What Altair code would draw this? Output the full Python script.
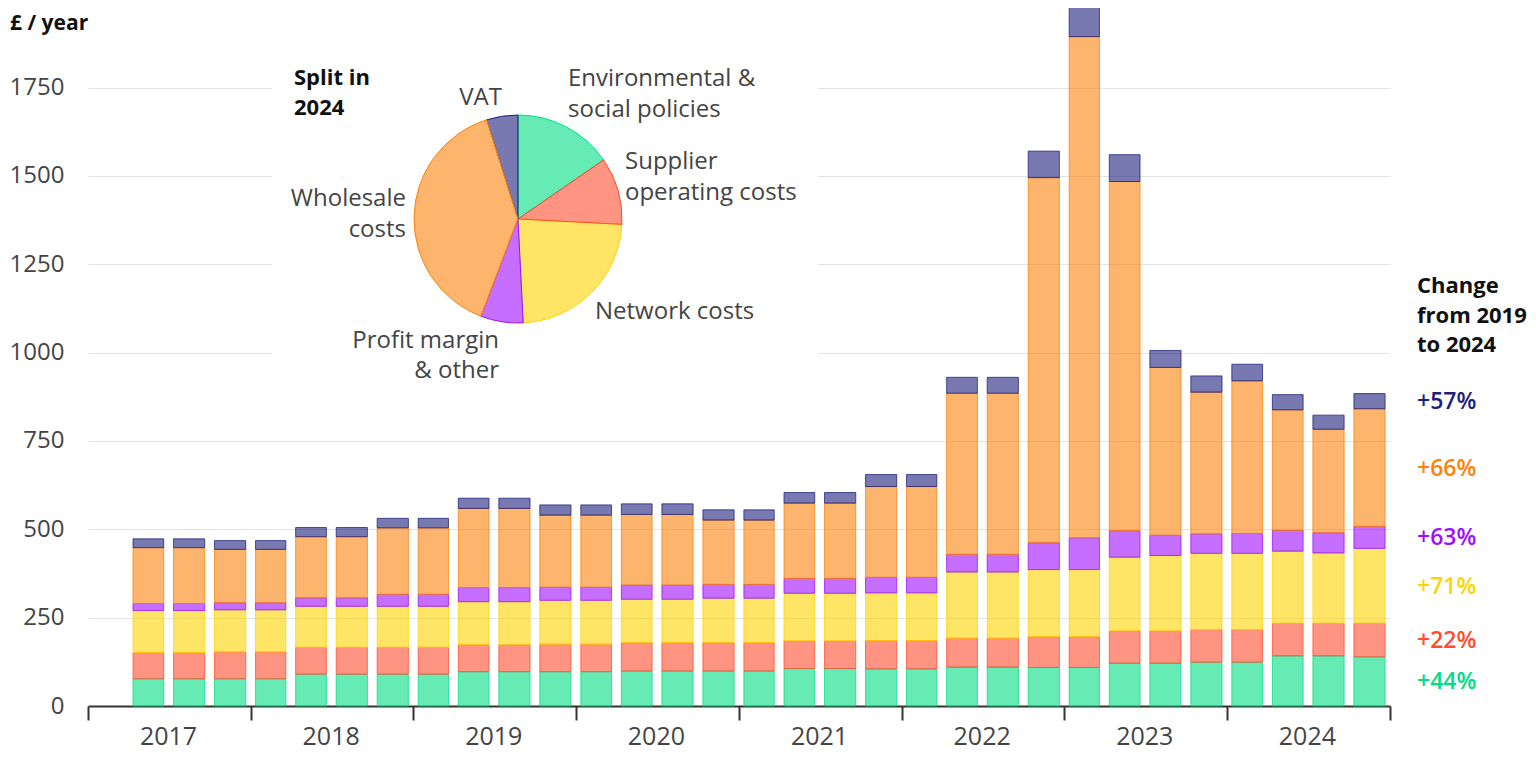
import altair as alt
import pandas as pd

FONT = "Open Sans"

series = ["Environmental & social policies", "Supplier operating costs", "Network costs",
          "Profit margin & other", "Wholesale costs", "VAT"]
base_colors = ["#00DE84", "#FF4D2F", "#FFD400", "#9E0DFF", "#FC820A", "#1C207B"]

# quarterly periods, Q2 2017 .. Q4 2024 (31 bars)
period_starts = pd.date_range("2017-04-01", periods=31, freq="QS")

environmental = [77, 77, 77, 77, 90, 90, 90, 90, 97, 97, 97, 97, 99, 99, 99, 99,
                 106, 106, 105, 105, 110, 110, 109, 109, 121, 121, 124, 124, 142, 142, 139]
supplier = [74, 74, 76, 76, 76, 76, 76, 76, 76, 76, 78, 78, 80, 80, 80, 80,
            78, 78, 80, 80, 82, 82, 87, 87, 91, 91, 92, 92, 92, 92, 95]
network = [119, 119, 119, 119, 116, 116, 116, 116, 122, 122, 124, 124, 123, 123, 126, 126,
           135, 135, 135, 135, 187, 187, 190, 190, 209, 214, 216, 216, 204, 199, 212]
profit = [20, 20, 20, 20, 24, 24, 34, 34, 40, 40, 37, 37, 40, 40, 39, 39,
          42, 42, 44, 44, 50, 50, 76, 90, 75, 57, 55, 56, 59, 57, 62]
wholesale = [158, 158, 151, 151, 173, 173, 188, 188, 224, 224, 204, 204, 200, 200, 182, 182,
             213, 213, 257, 257, 456, 456, 1033, 1418, 988, 475, 401, 432, 341, 293, 333]
vat = [25, 25, 25, 25, 26, 26, 27, 27, 29, 29, 29, 29, 30, 30, 29, 29,
       30, 30, 34, 34, 45, 45, 75, 96, 76, 48, 46, 47, 43, 40, 43]

change_labels = ["+44%", "+22%", "+71%", "+63%", "+66%", "+57%"]
years = list(range(2017, 2026))
y_ticks = [0, 250, 500, 750, 1000, 1250, 1500, 1750]

values_by_series = [environmental, supplier, network, profit, wholesale, vat]

rows = []
for i, start in enumerate(period_starts):
    end = start + pd.offsets.QuarterBegin(startingMonth=1)
    cum = 0
    for k, name in enumerate(series):
        v = values_by_series[k][i]
        rows.append({
            "start": (start + pd.Timedelta(days=11)).strftime("%Y-%m-%dT00:00:00"),
            "end": (end - pd.Timedelta(days=11)).strftime("%Y-%m-%dT00:00:00"),
            "year": start.year,
            "series": name,
            "order": k,
            "value": v,
            "y0": cum,
            "y1": cum + v,
            "mid": cum + v / 2,
        })
        cum += v
df = pd.DataFrame(rows)

pie_df = (df[df["year"] == 2024].groupby(["series", "order"], as_index=False)["value"].mean())
last_df = df[df["start"] == df["start"].max()].copy()
last_df["label"] = [change_labels[k] for k in last_df["order"]]

cscale = alt.Scale(domain=series, range=base_colors)
xscale = alt.Scale(domain=[alt.DateTime(year=2017, month=1, date=1),
                           alt.DateTime(year=2025, month=1, date=1)], nice=False)
yscale = alt.Scale(domain=[0, 1975], nice=False)

xaxis = alt.Axis(
    values=[alt.DateTime(year=y, month=1, date=1) for y in years],
    labelExpr="year(datum.value) < 2025 ? timeFormat(datum.value, '%Y') : ''",
    labelOffset=80, labelFlush=False, labelOverlap=False, labelBound=False,
    tickSize=14, tickWidth=2, tickColor="#333", domainColor="#333", domainWidth=2,
    labelFontSize=25, labelColor="#444", labelFont=FONT, labelPadding=4,
    grid=False, title=None,
)
yaxis = alt.Axis(
    values=y_ticks, format="d", grid=True, gridColor="#e3e3e3", gridWidth=1, domain=False, ticks=False,
    labelFontSize=24, labelColor="#444", labelFont=FONT, labelPadding=24, title=None,
)

one = pd.DataFrame({"a": [0]})

mask = alt.Chart(one).mark_rect(color="white").encode(
    x=alt.value(184), x2=alt.value(730), y=alt.value(32), y2=alt.value(384)
)

bars = alt.Chart(df).mark_bar(fillOpacity=0.6, strokeWidth=1, strokeOpacity=0.75).encode(
    x=alt.X("start:T", scale=xscale, axis=xaxis),
    x2="end:T",
    y=alt.Y("y1:Q", scale=yscale, axis=yaxis),
    y2="y0:Q",
    color=alt.Color("series:N", scale=cscale, legend=None),
    stroke=alt.Stroke("series:N", scale=cscale, legend=None),
)

pie = alt.Chart(pie_df).mark_arc(outerRadius=104, fillOpacity=0.6, strokeWidth=1).encode(
    theta=alt.Theta("value:Q", stack=True),
    order=alt.Order("order:Q"),
    color=alt.Color("series:N", scale=cscale, legend=None),
    stroke=alt.Stroke("series:N", scale=cscale, legend=None),
    x=alt.value(430), y=alt.value(211),
)

pct = alt.Chart(last_df).mark_text(
    align="left", baseline="alphabetic", dy=8, fontSize=23, fontWeight=600, font=FONT
).encode(
    x=alt.value(1329),
    y=alt.Y("mid:Q", scale=yscale),
    text="label:N",
    color=alt.Color("series:N", scale=cscale, legend=None),
)


def label(text, x, y, size=24, weight="normal", color="#444", align="left", lh=31):
    return alt.Chart(one).mark_text(
        text=text, align=align, baseline="alphabetic", fontSize=size, fontWeight=weight,
        color=color, font=FONT, lineHeight=lh,
    ).encode(x=alt.value(x), y=alt.value(y))


texts = [
    label("£ / year", -78, 22, size=21, weight="bold", color="#111"),
    label(["Split in", "2024"], 206, 77, size=22, weight="bold", color="#111", lh=30),
    label("VAT", 414, 97, align="right"),
    label(["Environmental &", "social policies"], 480, 78),
    label(["Supplier", "operating costs"], 537, 161),
    label(["Wholesale", "costs"], 318, 198, align="right"),
    label("Network costs", 507, 311),
    label(["Profit margin", "& other"], 411, 340, align="right", lh=30),
    label(["Change", "from 2019", "to 2024"], 1329, 285, size=22, weight="bold", color="#111", lh=29.5),
]

chart = alt.layer(mask, bars, pie, pct, *texts).properties(
    width=1302, height=698,
    padding={"left": 80, "top": 0, "right": 138, "bottom": 51},
    autosize=alt.AutoSizeParams(type="none"),
).configure(font=FONT).configure_view(stroke=None)

chart.save("out.html", embed_options={"renderer": "svg", "actions": False})
